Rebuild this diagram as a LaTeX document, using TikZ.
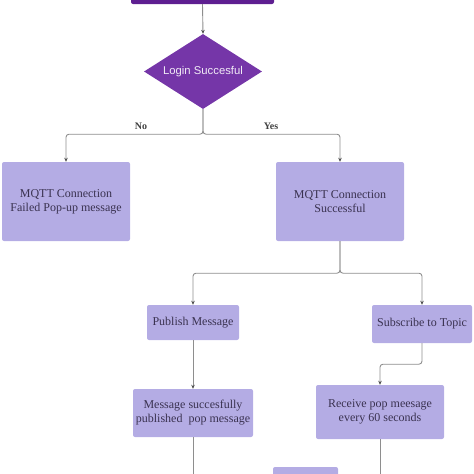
\documentclass[tikz,border=0pt]{standalone}
\usepackage{fontspec}
\setmainfont{Liberation Serif}
\newfontfamily\decfont{Liberation Sans}
\usetikzlibrary{shapes.geometric,arrows.meta}
\definecolor{boxfill}{HTML}{B4ACE4}
\definecolor{boxtext}{HTML}{3A3250}
\definecolor{decfill}{HTML}{7536A8}
\definecolor{startfill}{HTML}{5E1F91}
\definecolor{linegray}{HTML}{8E8E8E}
\tikzset{
  proc/.style={rectangle, rounded corners=2pt, fill=boxfill, text=boxtext, align=center, inner sep=0pt,
    font=\fontsize{12}{14}\selectfont},
  decision/.style={diamond, aspect=1.57, fill=decfill, text=white!90!decfill, inner sep=0pt,
    minimum width=118pt, minimum height=75pt, font=\decfont\fontsize{11.3}{13}\selectfont},
  startbox/.style={rectangle, rounded corners=2pt, fill=startfill, minimum width=143pt, minimum height=48pt},
  flow/.style={draw=linegray, line width=0.9pt, rounded corners=3pt,
    -{Stealth[length=4pt,width=3.5pt,color=black!70]}},
  plain/.style={draw=linegray, line width=0.9pt, rounded corners=3pt},
  answer/.style={font=\bfseries\fontsize{10}{12}\selectfont, text=black!75}
}
\begin{document}
\begin{tikzpicture}[x=1pt,y=-1pt]
    \useasboundingbox (0,0) rectangle (474,474);

    \node[startbox] (start) at (202.5,-20) {};
    \node[decision] (login) at (203,71.5) {Login Succesful};

    \node[proc, minimum width=128pt, minimum height=79pt] (fail) at (66,201.5) {MQTT Connection\\Failed Pop-up message};
    \node[proc, minimum width=128pt, minimum height=79pt] (conn) at (340,201.5) {MQTT Connection\\Successful};

    \node[proc, minimum width=92pt, minimum height=35pt] (pub) at (193,322.5) {Publish Message};
    \node[proc, minimum width=100pt, minimum height=38pt] (sub) at (422,324) {Subscribe to Topic};

    \node[proc, minimum width=120pt, minimum height=48pt] (sent) at (193,413) {Message succesfully\\published\ \ pop message};
    \node[proc, minimum width=128pt, minimum height=54pt] (recv) at (380,412) {Receive pop meesage\\every 60 seconds};

    \node[proc, minimum width=65pt, minimum height=46pt] (last) at (305.5,490) {};

    % free ends below the page
    \coordinate (pubend) at (193,480);
    \coordinate (recvend) at (380,480);

    \draw[flow] (start.south) -- (login.north);
    \draw[flow] (login.south) -- ++(0,25) -| (fail.north);
    \draw[flow] (login.south) -- ++(0,25) -| (conn.north);
    \node[answer] (no) at (141,126) {No};
    \node[answer] (yes) at (271,126) {Yes};

    \draw[flow] (conn.south) -- ++(0,32) -| (pub.north);
    \draw[flow] (conn.south) -- ++(0,32) -| (sub.north);

    \draw[flow] (pub.south) -- (sent.north);
    \draw[flow] (sub.south) -- ++(0,21) -| (recv.north);

    \draw[plain] (sent.south) -- (pubend);
    \draw[plain] (recv.south) -- (recvend);
\end{tikzpicture}
\end{document}
